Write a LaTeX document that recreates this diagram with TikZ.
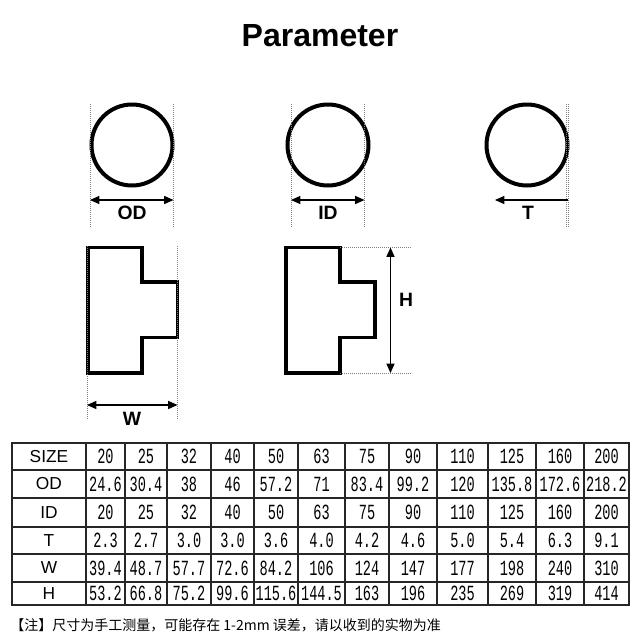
\documentclass[tikz,border=0pt]{standalone}
\usepackage{fontspec}
\usepackage{graphicx}
\setmainfont{Liberation Sans}
\newfontfamily\cjk{Noto Sans CJK SC}
\newfontfamily\mono{Liberation Mono}
\usetikzlibrary{arrows.meta}
\tikzset{
 ring/.style={line width=3pt, draw, circle, minimum size=60.75pt, inner sep=0pt},
 dots/.style={densely dotted, gray, line width=0.5pt},
 dim/.style={line width=1pt, {Triangle[length=7pt,width=6pt]}-{Triangle[length=7pt,width=6pt]}},
 lab/.style={font=\bfseries\fontsize{14.5}{14.5}\selectfont},
 cell/.style={font=\fontsize{13}{13}\selectfont},
}
\newcommand{\nm}[1]{\scalebox{0.85}[1.35]{\mono\fontsize{12}{12}\selectfont #1}}
\begin{document}
\begin{tikzpicture}[x=0.75pt,y=-0.75pt]
\useasboundingbox (0,0) rectangle (640,640);
\node[font=\bfseries\fontsize{24}{24}\selectfont] (title) at (320,36) {Parameter};
% circles
\node[ring] (c1) at (132,145) {};
\node[ring] (c2) at (328,145) {};
\node[ring] (c3) at (527,145) {};
\draw[dots] (90,104) -- (90,227) (173.5,104) -- (173.5,227);
\draw[dots] (291,104) -- (291,227) (364.5,104) -- (364.5,227);
\draw[dots] (566.5,104) -- (566.5,227) (568.5,104) -- (568.5,227);
\coordinate (a1) at (90,200); \coordinate (b1) at (173.5,200);
\coordinate (a2) at (291,200); \coordinate (b2) at (364.5,200);
\coordinate (a3) at (495,200); \coordinate (b3) at (567.5,200);
\draw[dim] (a1) -- (b1);
\draw[dim] (a2) -- (b2);
\draw[line width=1pt, {Triangle[length=7pt,width=6pt]}-] (a3) -- (b3);
\node[lab] (od) at (132,213) {OD};
\node[lab] (id) at (328,213) {ID};
\node[lab] (t) at (528,213) {T};
% tees
\draw[line width=2.4pt] (88,247.5) -- (142,247.5) -- (142,282) -- (177.5,282) -- (177.5,337.5) -- (142,337.5) -- (142,373) -- (88,373) -- cycle;
\draw[line width=2.4pt] (286,247.5) -- (340,247.5) -- (340,282) -- (375,282) -- (375,337.5) -- (340,337.5) -- (340,373) -- (286,373) -- cycle;
\draw[dots] (87,246) -- (87,420) (177.5,246) -- (177.5,420);
\draw[dots] (340,247.5) -- (411,247.5) (340,373) -- (411,373);
\coordinate (a4) at (87,405); \coordinate (b4) at (177.5,405);
\coordinate (a5) at (390.5,247.5); \coordinate (b5) at (390.5,373);
\draw[dim] (a4) -- (b4);
\draw[dim] (a5) -- (b5);
\node[lab] (w) at (132,419) {W};
\node[lab] (h) at (406,300) {H};
% table
\draw[line width=0.9pt, black!85] (12,443) rectangle (629,605);
\foreach \x in {86,125,167,211,254,298,345,389,437,488,536,584} \draw[line width=0.9pt, black!85] (\x,443) -- (\x,605);
\foreach \y in {470,498,527,554,582} \draw[line width=0.9pt, black!85] (12,\y) -- (629,\y);
\foreach \lbl/\yy [count=\i] in {SIZE/456.5,OD/484,ID/512.5,T/540.5,W/568,H/593.5}
  \node[cell] (r\i) at (49,\yy) {\lbl};
\def\cx{105.5,146,189,232.5,276,321.5,367,413,462.5,512,560,606.5}
\foreach \row/\yy [count=\r] in {
 {20,25,32,40,50,63,75,90,110,125,160,200}/456.5,
 {24.6,30.4,38,46,57.2,71,83.4,99.2,120,135.8,172.6,218.2}/484,
 {20,25,32,40,50,63,75,90,110,125,160,200}/512.5,
 {2.3,2.7,3.0,3.0,3.6,4.0,4.2,4.6,5.0,5.4,6.3,9.1}/540.5,
 {39.4,48.7,57.7,72.6,84.2,106,124,147,177,198,240,310}/568,
 {53.2,66.8,75.2,99.6,115.6,144.5,163,196,235,269,319,414}/593.5}
 { \foreach \v [count=\c] in \row {
     \pgfmathsetmacro{\xx}{{\cx}[\c-1]}
     \node[inner sep=0pt] (v\r-\c) at (\xx,\yy) {\nm{\v}};
 } }
\node[anchor=west, font=\cjk\fontsize{10.5}{10.5}\selectfont, inner sep=0pt] (note) at (10,625) {【注】尺寸为手工测量，可能存在 1-2mm 误差，请以收到的实物为准};
\end{tikzpicture}
\end{document}
